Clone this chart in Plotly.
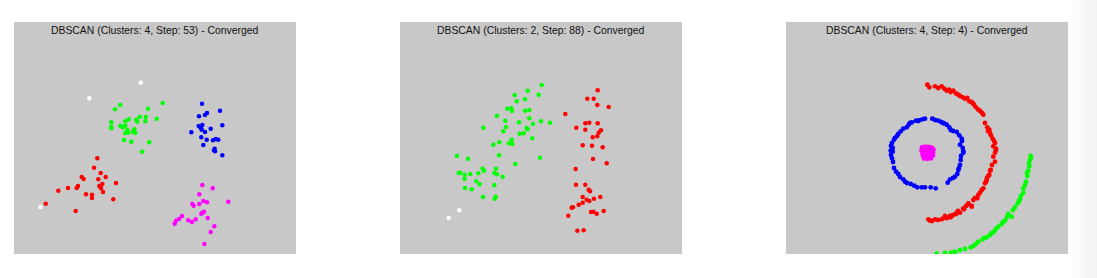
import plotly.graph_objects as go

W, H = 1097, 278

# ---------------- Panel 1 data (pixel-space readings) ----------------
p1_noise_x = [140.7, 89.3, 40.3]
p1_noise_y = [82.7, 98.3, 207.0]
p1_green_x = [120.3, 162.7, 115.0, 148.0, 139.7, 145.7, 156.7, 128.7, 136.3, 125.3, 137.3, 145.3, 111.3, 111.3,
              111.3, 120.3, 122.7, 125.3, 127.3, 134.3, 132.7, 135.3, 125.3, 128.0, 124.0, 131.3, 149.3, 142.3]
p1_green_y = [105.0, 103.0, 109.3, 108.7, 116.7, 117.0, 118.7, 119.3, 119.7, 121.3, 121.7, 121.3, 122.3, 126.7,
              128.3, 125.7, 127.3, 125.7, 130.0, 129.3, 131.7, 133.0, 133.0, 132.7, 140.0, 141.7, 142.3, 151.7]
p1_blue_x = [202.0, 220.0, 207.0, 205.0, 199.0, 222.3, 198.7, 202.3, 201.0, 201.7, 210.7, 191.3, 205.0, 201.3,
             206.7, 213.0, 215.7, 218.3, 203.3, 214.7, 214.0, 215.0, 222.3]
p1_blue_y = [103.7, 110.7, 113.0, 115.0, 116.3, 125.3, 126.0, 125.0, 128.3, 129.7, 128.7, 132.3, 132.0, 137.3,
             139.7, 140.3, 139.0, 139.7, 145.0, 148.7, 150.3, 151.3, 155.3]
p1_red_x = [97.3, 94.0, 100.7, 105.7, 81.7, 83.7, 98.3, 116.0, 102.3, 78.0, 76.7, 68.0, 99.3, 101.0,
            58.3, 103.0, 86.0, 92.0, 92.0, 113.3, 45.7, 75.7]
p1_red_y = [158.3, 167.7, 173.0, 177.0, 177.0, 179.0, 179.3, 183.0, 184.0, 186.0, 188.0, 188.0, 186.0, 188.3,
            190.7, 192.0, 194.3, 194.7, 198.0, 199.3, 203.7, 211.0]
p1_mag_x = [202.3, 212.7, 199.3, 228.3, 203.3, 207.0, 192.3, 193.7, 199.3, 204.0, 202.3, 201.3, 182.0, 207.7,
            179.0, 176.0, 188.3, 192.0, 195.7, 174.7, 214.3, 210.7, 204.3]
p1_mag_y = [185.0, 188.3, 194.3, 201.7, 201.0, 202.3, 204.0, 205.7, 204.0, 211.7, 212.7, 213.7, 216.0, 218.0,
            219.0, 220.7, 220.3, 222.0, 219.3, 223.7, 226.3, 232.0, 244.0]

# ---------------- Panel 2 data ----------------
p2_noise_x = [459.3, 448.7]
p2_noise_y = [210.3, 217.7]
p2_green_x = [541.7, 527.7, 514.7, 538.7, 525.0, 516.7, 507.3, 511.3, 512.0, 525.0, 529.3, 497.0, 505.3, 519.0,
              529.3, 541.0, 550.0, 533.0, 483.3, 506.0, 526.7, 527.7, 503.3, 519.7, 523.7, 532.3, 511.7, 509.0,
              512.3, 499.3, 493.3, 499.0, 457.0, 468.0, 540.0, 515.3, 482.7, 484.0, 496.0, 494.3, 497.0, 458.7,
              460.3, 464.7, 470.3, 478.3, 502.7, 464.7, 476.3, 479.7, 494.3, 465.0, 471.7, 483.0, 495.7, 494.7]
p2_green_y = [85.0, 90.7, 95.0, 94.7, 99.3, 101.3, 108.7, 108.3, 111.0, 110.7, 110.0, 115.7, 120.7, 122.3,
              118.3, 121.3, 122.7, 124.0, 127.7, 127.0, 128.0, 129.3, 131.3, 133.7, 133.3, 138.3, 139.7, 143.3,
              144.0, 142.3, 144.7, 155.3, 155.7, 158.7, 157.7, 164.0, 168.7, 170.7, 168.7, 173.0, 174.3, 173.0,
              172.7, 174.7, 174.0, 173.3, 176.7, 179.0, 181.3, 184.3, 185.3, 188.0, 189.3, 197.0, 196.7, 198.7]
p2_red_x = [597.7, 587.3, 593.7, 597.3, 608.7, 565.3, 585.3, 589.3, 597.7, 576.3, 585.3, 601.0, 598.7, 597.3,
            592.7, 582.7, 592.0, 602.7, 593.0, 606.7, 575.7, 576.0, 585.3, 588.7, 590.0, 582.7, 600.3, 586.7,
            589.3, 594.0, 582.7, 578.7, 573.0, 571.7, 591.0, 593.3, 603.7, 596.7, 568.3, 577.3, 583.7]
p2_red_y = [90.3, 98.7, 98.7, 105.0, 107.0, 114.0, 123.3, 122.7, 123.3, 127.7, 129.7, 130.3, 132.7, 136.3,
            137.3, 145.3, 145.7, 147.3, 159.0, 163.3, 169.0, 184.7, 184.7, 189.7, 191.3, 197.0, 197.0, 199.7,
            201.0, 198.7, 202.7, 204.7, 207.3, 207.7, 212.0, 211.7, 211.0, 213.7, 215.7, 230.7, 230.3]

# ---------------- Panel 3 data ----------------
p3_red_x = [927.3, 929.3, 935.0, 938.3, 941.7, 944.3, 946.7, 949.0, 950.7, 953.3, 958.3, 962.7, 965.0, 967.3,
            969.3, 971.7, 974.0, 976.0, 978.3, 983.3, 985.0, 987.3, 989.3, 991.0, 992.7, 995.0, 993.3, 996.0,
            995.0, 993.3, 995.0, 990.7, 989.3, 986.7, 985.0, 981.7, 978.3, 973.3, 968.3, 971.7, 963.3, 956.0,
            950.0, 943.3, 990.0, 988.3, 986.0, 983.3, 980.0, 977.3, 971.7, 968.3, 964.0, 960.0, 956.0, 950.7,
            945.0, 941.7, 935.0, 930.0, 928.3,
            960.0, 956.0, 973.0, 980.0, 982.0, 988.0, 990.0, 994.0, 996.0, 992.0, 987.0, 975.0, 966.0, 958.0,
            953.0, 947.0, 938.0, 932.0]
p3_red_y = [84.7, 87.3, 86.3, 88.0, 86.3, 88.7, 90.7, 89.7, 92.0, 90.7, 94.7, 97.3, 98.7, 98.0,
            101.3, 102.0, 104.7, 107.3, 109.7, 114.7, 123.0, 127.3, 129.7, 135.3, 138.7, 143.0, 146.3, 148.7,
            152.7, 156.7, 161.7, 170.0, 175.0, 180.0, 183.3, 190.0, 195.0, 200.0, 203.3, 206.0, 208.3, 213.3,
            216.0, 218.3, 170.7, 176.0, 181.7, 188.3, 192.7, 198.3, 206.7, 204.0, 209.3, 212.7, 214.0, 217.3,
            216.0, 219.3, 219.3, 220.7, 219.3,
            96.0, 93.5, 103.5, 111.0, 113.0, 131.0, 133.0, 141.0, 150.0, 165.0, 178.0, 198.0, 206.0, 211.0,
            215.0, 218.0, 220.0, 221.0]
p3_blue_x = [932.3, 935.0, 938.3, 941.0, 944.0, 946.7, 949.3, 950.7, 956.7, 959.3, 961.7, 960.0, 962.7, 963.3,
             925.0, 922.3, 919.3, 916.0, 912.0, 908.7, 906.7, 903.3, 900.7, 898.3, 895.0, 894.0, 892.7, 890.7,
             892.7, 892.0, 896.0, 898.3, 903.3, 905.0, 910.7, 914.3, 917.3, 921.7, 925.0, 930.7, 935.7,
             947.7, 950.0, 955.0, 957.3, 958.3, 960.0, 960.7, 963.3,
             918.0, 910.0, 897.0, 892.0, 891.0, 891.0, 893.0, 894.0, 900.0, 907.0, 953.0, 959.0, 961.0,
             962.0, 953.0, 943.0]
p3_blue_y = [118.7, 120.0, 120.7, 122.0, 123.3, 124.7, 127.3, 130.0, 132.0, 135.3, 138.7, 144.7, 148.0, 151.3,
             118.7, 119.3, 120.3, 120.7, 122.3, 124.7, 127.3, 128.7, 131.3, 134.0, 138.0, 139.7, 148.0, 150.7,
             151.7, 158.3, 171.7, 174.0, 179.3, 181.7, 184.0, 185.7, 187.3, 187.3, 187.3, 187.3, 188.3,
             182.7, 179.3, 176.7, 174.0, 170.0, 165.0, 160.0, 152.7,
             121.0, 123.0, 136.0, 143.0, 146.0, 155.0, 162.0, 168.0, 177.0, 183.0, 178.0, 168.0, 156.0,
             141.0, 131.0, 123.0]
p3_green_x = [1030.7, 1030.0, 1029.3, 1028.3, 1027.3, 1026.0, 1023.3, 1023.3, 1020.0, 1017.7, 1015.0, 1008.3,
              1011.7, 1005.0, 1001.7, 998.3, 994.0, 990.0, 986.7, 982.7, 978.3, 973.3, 970.7, 960.0, 955.0,
              950.7, 936.7,
              1031.0, 1029.0, 1027.0, 1025.0, 1021.0, 1019.0, 1013.0, 1007.0, 1003.0, 996.0, 992.0, 984.0,
              976.0, 965.0, 945.0]
p3_green_y = [156.0, 160.0, 166.0, 170.7, 176.0, 181.7, 188.3, 192.7, 199.3, 203.3, 207.3, 214.0,
              216.7, 220.7, 224.0, 226.7, 231.7, 235.0, 237.3, 239.3, 241.7, 246.0, 247.3, 250.0, 251.7,
              252.7, 253.5,
              158.0, 163.0, 173.0, 185.0, 196.0, 201.0, 210.0, 217.0, 222.0, 229.0, 233.0, 238.0,
              244.0, 249.0, 253.0]
p3_mag_x = [922.0, 924.0, 926.0, 928.0, 930.0, 932.0, 933.5, 921.5, 923.5, 925.5, 927.5, 929.5, 931.5, 933.0,
            922.5, 924.5, 926.5, 928.5, 930.5, 932.5, 923.0, 925.0, 927.0, 929.0, 931.0, 933.0, 924.0, 927.5,
            931.0, 926.0, 929.0]
p3_mag_y = [147.5, 147.0, 146.8, 147.0, 147.2, 147.8, 149.5, 150.5, 150.0, 150.3, 150.0, 150.4, 150.2, 152.5,
            153.5, 153.0, 153.3, 153.0, 153.4, 153.2, 156.0, 156.3, 156.0, 156.5, 156.0, 155.5, 158.5, 158.8,
            158.3, 149.0, 155.0]

titles = ["DBSCAN (Clusters: 4, Step: 53) - Converged",
          "DBSCAN (Clusters: 2, Step: 88) - Converged",
          "DBSCAN (Clusters: 4, Step: 4) - Converged"]

GREEN, BLUE, RED, MAG, WHITE = "#00ff00", "#0000ff", "#ff0000", "#ff00ff", "#ffffff"

panels = [
    (14, 296, [(p1_noise_x, p1_noise_y, WHITE), (p1_green_x, p1_green_y, GREEN), (p1_blue_x, p1_blue_y, BLUE),
               (p1_red_x, p1_red_y, RED), (p1_mag_x, p1_mag_y, MAG)], 4.5),
    (400, 682, [(p2_noise_x, p2_noise_y, WHITE), (p2_green_x, p2_green_y, GREEN),
                (p2_red_x, p2_red_y, RED)], 4.5),
    (786, 1068, [(p3_red_x, p3_red_y, RED), (p3_blue_x, p3_blue_y, BLUE), (p3_green_x, p3_green_y, GREEN),
                 (p3_mag_x, p3_mag_y, MAG)], 4.8),
]
TOP, BOTTOM = 22, 254

fig = go.Figure()
layout = dict(width=W, height=H, margin=dict(l=0, r=0, t=0, b=0), paper_bgcolor="white",
              plot_bgcolor="#c8c8c8", showlegend=False, annotations=[], shapes=[])

for i, (left, right, series, msize) in enumerate(panels):
    sfx = "" if i == 0 else str(i + 1)
    for xs, ys, col in series:
        fig.add_trace(go.Scatter(x=xs, y=ys, mode="markers", xaxis="x" + sfx, yaxis="y" + sfx,
                                 marker=dict(color=col, size=msize, line=dict(width=0)),
                                 cliponaxis=True, hoverinfo="skip"))
    layout["xaxis" + sfx] = dict(domain=[left / W, right / W], range=[left, right], visible=False,
                                 showgrid=False, zeroline=False, fixedrange=True, anchor="y" + sfx)
    layout["yaxis" + sfx] = dict(domain=[(H - BOTTOM) / H, (H - TOP) / H], range=[BOTTOM, TOP], visible=False,
                                 showgrid=False, zeroline=False, fixedrange=True, anchor="x" + sfx)
    layout["annotations"].append(dict(text=titles[i], x=(left + right) / 2, y=31, xref="x" + sfx,
                                      yref="y" + sfx, showarrow=False, xanchor="center", yanchor="middle",
                                      font=dict(family="Liberation Sans, Arial", size=10.4, color="#111111")))

# very faint shadow at the right edge
for k in range(6):
    layout["shapes"].append(dict(type="rect", xref="paper", yref="paper", x0=(1072 + k * 4) / W, x1=1,
                                 y0=0, y1=1, fillcolor="rgba(0,0,0,0.006)", line=dict(width=0), layer="below"))

fig.update_layout(**layout)
fig.write_html("out.html")
